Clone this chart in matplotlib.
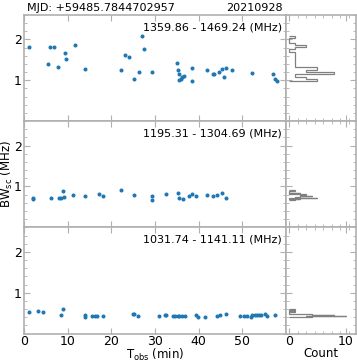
import matplotlib
matplotlib.use('Agg')
import matplotlib.pyplot as plt
from matplotlib.ticker import MultipleLocator
import numpy as np

# scintillation bandwidth per sub-band
top_t = [1.15, 5.6, 6.0, 7.0, 7.9, 9.4, 9.6, 11.6, 13.9, 22.2, 23.1, 24.0, 25.3,
         26.3, 27.0, 27.4, 29.4, 35.1, 35.2, 35.4, 35.6, 35.9, 36.2, 36.6, 38.4,
         38.6, 42.0, 43.3, 43.5, 44.6, 45.3, 45.9, 46.2, 47.6, 52.3, 57.0, 57.6, 57.9]
top_bw = [1.82, 1.40, 1.82, 1.82, 1.32, 1.66, 1.53, 1.87, 1.27, 1.25, 1.61, 1.57, 1.04,
          1.20, 2.09, 1.77, 1.20, 1.43, 1.26, 1.15, 1.01, 1.03, 1.07, 1.11, 0.98,
          1.31, 1.24, 1.15, 1.16, 1.19, 1.27, 1.08, 1.30, 1.25, 1.17, 1.15, 1.02, 0.99]

mid_t = [2.1, 2.1, 6.2, 8.1, 8.5, 8.9, 9.2, 11.2, 13.9, 17.3, 18.0, 22.2, 25.3, 29.4,
         29.4, 32.6, 35.2, 35.6, 36.5, 37.9, 38.4, 39.5, 42.0, 43.4, 44.2, 45.3, 46.2]
mid_bw = [0.72, 0.69, 0.72, 0.72, 0.72, 0.89, 0.75, 0.78, 0.77, 0.81, 0.77, 0.91, 0.78, 0.76,
          0.67, 0.81, 0.84, 0.73, 0.69, 0.77, 0.81, 0.76, 0.79, 0.77, 0.79, 0.85, 0.72]

bot_t = [1.15, 3.3, 4.3, 8.5, 8.9, 13.9, 13.9, 15.7, 16.2, 16.8, 18.0, 24.9, 25.2, 26.1,
         31.0, 32.3, 32.6, 34.1, 34.6, 35.2, 35.6, 36.2, 36.9, 39.4, 39.8, 41.5, 44.2,
         44.8, 46.2, 49.5, 50.5, 51.1, 52.1, 52.3, 53.0, 53.4, 53.8, 54.2, 55.3, 55.7, 57.6]
bot_bw = [0.54, 0.56, 0.53, 0.46, 0.59, 0.45, 0.41, 0.44, 0.44, 0.44, 0.44, 0.47, 0.47, 0.42,
          0.43, 0.45, 0.45, 0.43, 0.43, 0.43, 0.42, 0.43, 0.42, 0.45, 0.41, 0.41, 0.43,
          0.46, 0.47, 0.43, 0.43, 0.43, 0.41, 0.45, 0.45, 0.46, 0.45, 0.46, 0.47, 0.43, 0.45]

bands = ['1359.86 - 1469.24 (MHz)', '1195.31 - 1304.69 (MHz)', '1031.74 - 1141.11 (MHz)']
series = [(top_t, top_bw), (mid_t, mid_bw), (bot_t, bot_bw)]

spine_col = '#b0b0b0'

fig = plt.figure(figsize=(3.57, 3.63), dpi=100)
gs = fig.add_gridspec(3, 2, width_ratios=[262, 70], hspace=0, wspace=0,
                      left=0.067, right=0.997, top=0.959, bottom=0.081)

main_axes = []
hist_axes = []
for i in range(3):
    ax = fig.add_subplot(gs[i, 0], sharex=main_axes[0] if main_axes else None)
    hx = fig.add_subplot(gs[i, 1], sharey=ax, sharex=hist_axes[0] if hist_axes else None)
    main_axes.append(ax)
    hist_axes.append(hx)

    t, bw = series[i]
    ax.plot(t, bw, '.', color='#1f77b4', markersize=3.8)
    hx.hist(bw, bins=20, histtype='step', orientation='horizontal', color='gray', lw=0.9)

    ax.text(0.985, 0.93, bands[i], transform=ax.transAxes, ha='right', va='top', fontsize=8)

    ax.set_ylim(0, 2.6)
    ax.set_yticks([1, 2])
    ax.yaxis.set_minor_locator(MultipleLocator(0.2))
    ax.set_xlim(0, 60)
    ax.set_xticks([0, 10, 20, 30, 40, 50])

    for a in (ax, hx):
        for s in a.spines.values():
            s.set_color(spine_col)
            s.set_linewidth(1.2)
        a.tick_params(which='both', direction='in', top=True, right=True,
                      color=spine_col, labelsize=9, pad=1.5)
        a.tick_params(axis='x', which='both', pad=0.8)
        a.tick_params(which='major', length=4)
        a.tick_params(which='minor', length=2)

    hx.tick_params(labelleft=False)
    if i < 2:
        ax.tick_params(labelbottom=False)
        hx.tick_params(labelbottom=False)

hist_axes[0].set_xlim(-0.55, 11.8)
hist_axes[0].set_xticks([0, 10])
hist_axes[0].xaxis.set_minor_locator(MultipleLocator(1.5))

main_axes[1].set_ylabel(r'BW$_\mathrm{sc}$ (MHz)', fontsize=8.5)
main_axes[1].yaxis.set_label_coords(-0.033, 0.5)
main_axes[2].set_xlabel(r'T$_\mathrm{obs}$ (min)', fontsize=8.5)
main_axes[2].xaxis.set_label_coords(0.5, -0.126)
hist_axes[2].set_xlabel('Count', fontsize=8.5)
hist_axes[2].xaxis.set_label_coords(0.5, -0.126)

fig.text(0.076, 0.978, 'MJD: +59485.7844702957', fontsize=8, va='center', ha='left')
fig.text(0.793, 0.978, '20210928', fontsize=8, va='center', ha='right')

fig.savefig('out.png', dpi=100)
